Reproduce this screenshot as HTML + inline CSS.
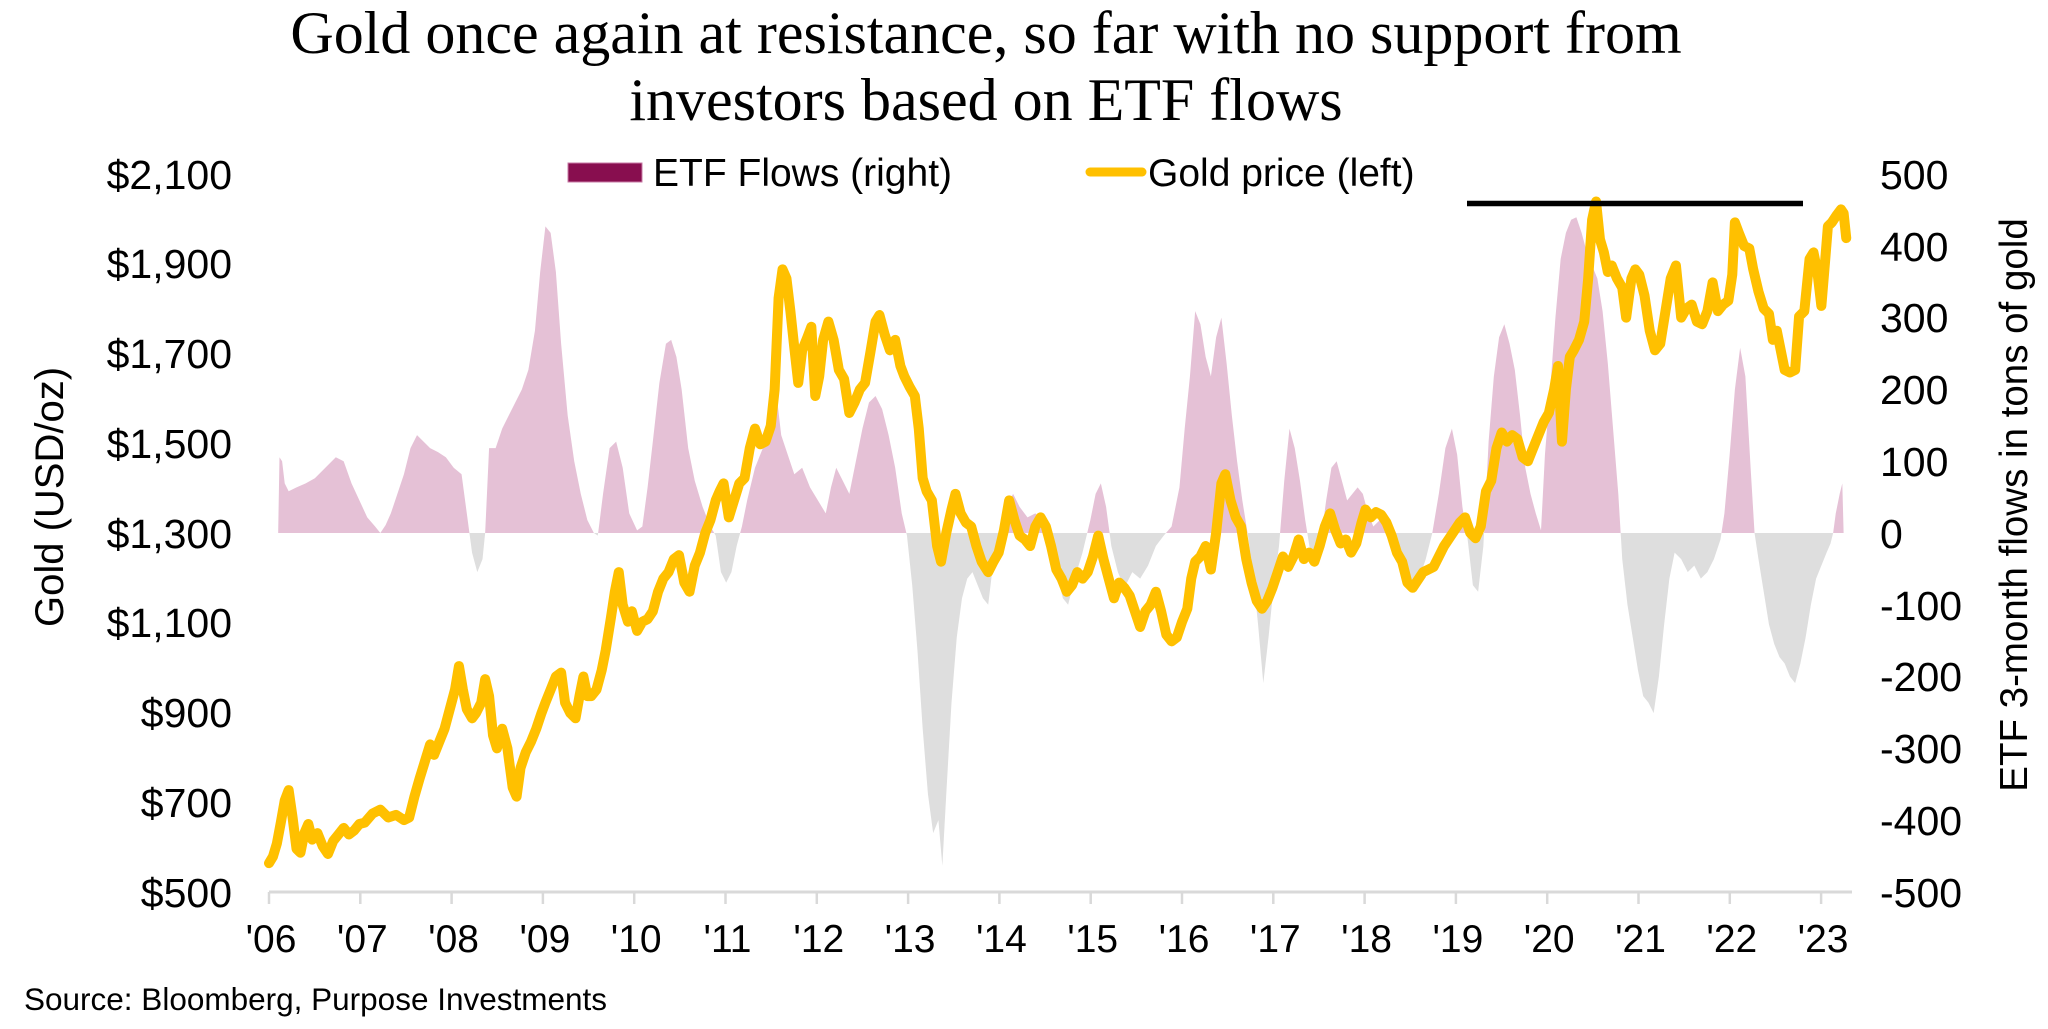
<!DOCTYPE html>
<html>
<head>
<meta charset="utf-8">
<style>
html,body{margin:0;padding:0;background:#fff;}
svg{display:block;}
.s{font-family:"Liberation Sans",Arial,sans-serif;fill:#000;}
.t{font-family:"Liberation Serif","Times New Roman",serif;fill:#000;}
</style>
</head>
<body>
<svg width="2048" height="1029" viewBox="0 0 2048 1029" xmlns="http://www.w3.org/2000/svg">
<rect width="2048" height="1029" fill="#fff"/>

<!-- Title -->
<text class="t" x="986" y="53" font-size="60" text-anchor="middle">Gold once again at resistance, so far with no support from</text>
<text class="t" x="986" y="120" font-size="60" text-anchor="middle">investors based on ETF flows</text>

<!-- Legend -->
<rect x="568" y="163" width="74" height="19" fill="#880E4F" stroke="#C77AA6" stroke-width="1"/>
<text class="s" x="653" y="186" font-size="39">ETF Flows (right)</text>
<line x1="1090" y1="172" x2="1142" y2="172" stroke="#FFC000" stroke-width="9" stroke-linecap="round"/>
<text class="s" x="1148" y="186" font-size="39">Gold price (left)</text>

<defs>
<clipPath id="cpos" clipPathUnits="userSpaceOnUse"><rect x="150" y="0" width="1400" height="410"/></clipPath>
<clipPath id="cneg" clipPathUnits="userSpaceOnUse"><rect x="150" y="410" width="1400" height="400"/></clipPath>
</defs>

<!-- Plot in main-view coords -->
<g transform="matrix(1.31 0 0 1.305 -2.17 -2.05)">
<polygon clip-path="url(#cpos)" fill="#E5C1D6" points="214,410 215,352 217,355 219,372 222,378 228,375 235,372 242,368 250,360 258,352 264,355 270,372 276,385 282,398 288,405 292,410 296,404 300,395 305,380 310,365 315,345 320,335 325,340 330,345 336,348 342,352 348,360 354,365 358,395 360,410 362,425 366,440 370,430 372,410 375,345 380,345 385,330 390,320 395,310 400,300 405,285 410,255 414,210 418,175 422,180 426,210 430,265 435,320 440,355 445,380 450,400 455,410 458,412 462,380 467,345 472,340 477,360 482,395 488,408 492,405 496,375 500,340 505,295 510,265 514,262 518,275 522,300 527,345 532,370 538,390 544,405 548,412 552,440 556,448 560,440 564,420 568,405 572,385 578,360 584,345 590,310 594,300 598,335 603,350 608,365 614,360 620,375 626,385 632,395 636,375 640,360 645,370 650,380 655,355 660,330 665,310 670,305 675,315 680,335 685,360 690,395 694,412 698,450 702,500 706,560 710,610 714,640 718,630 721,665 724,610 728,540 732,490 736,460 740,445 744,440 748,450 752,460 756,465 759,440 762,420 766,400 770,390 775,380 780,390 786,398 792,395 798,400 803,415 808,440 813,460 817,465 822,445 828,425 834,400 838,380 842,372 846,390 850,420 855,440 860,452 866,440 872,445 878,435 884,420 890,412 896,405 902,375 906,330 910,290 914,240 918,250 922,275 926,290 930,260 934,245 938,280 942,320 946,355 950,385 954,410 958,440 962,480 966,525 970,490 974,450 978,420 982,370 986,330 990,345 994,370 998,400 1002,425 1006,430 1010,415 1014,385 1018,360 1022,355 1026,370 1030,385 1034,380 1038,375 1042,380 1046,395 1050,405 1055,400 1060,395 1065,410 1070,430 1075,445 1080,455 1085,445 1090,430 1095,410 1100,380 1105,345 1110,330 1114,350 1118,390 1122,415 1126,450 1130,455 1134,420 1138,340 1142,290 1146,260 1150,250 1154,265 1158,285 1162,320 1166,360 1170,380 1174,395 1178,408 1181,350 1185,300 1189,245 1193,200 1197,180 1201,170 1205,168 1209,180 1213,195 1217,205 1221,215 1225,240 1229,280 1233,330 1237,380 1240,430 1244,465 1248,490 1252,515 1256,535 1260,540 1264,548 1268,520 1272,480 1276,445 1280,425 1285,430 1290,440 1295,435 1300,445 1305,440 1310,430 1315,415 1318,395 1322,350 1326,300 1330,268 1334,290 1338,360 1341,410 1344,430 1348,455 1352,480 1356,495 1360,505 1364,510 1368,520 1372,525 1376,510 1380,490 1384,465 1388,445 1392,435 1396,425 1399,418 1401,410 1403,395 1406,380 1408,372 1409,410"/>
<polygon clip-path="url(#cneg)" fill="#DEDEDE" points="214,410 215,352 217,355 219,372 222,378 228,375 235,372 242,368 250,360 258,352 264,355 270,372 276,385 282,398 288,405 292,410 296,404 300,395 305,380 310,365 315,345 320,335 325,340 330,345 336,348 342,352 348,360 354,365 358,395 360,410 362,425 366,440 370,430 372,410 375,345 380,345 385,330 390,320 395,310 400,300 405,285 410,255 414,210 418,175 422,180 426,210 430,265 435,320 440,355 445,380 450,400 455,410 458,412 462,380 467,345 472,340 477,360 482,395 488,408 492,405 496,375 500,340 505,295 510,265 514,262 518,275 522,300 527,345 532,370 538,390 544,405 548,412 552,440 556,448 560,440 564,420 568,405 572,385 578,360 584,345 590,310 594,300 598,335 603,350 608,365 614,360 620,375 626,385 632,395 636,375 640,360 645,370 650,380 655,355 660,330 665,310 670,305 675,315 680,335 685,360 690,395 694,412 698,450 702,500 706,560 710,610 714,640 718,630 721,665 724,610 728,540 732,490 736,460 740,445 744,440 748,450 752,460 756,465 759,440 762,420 766,400 770,390 775,380 780,390 786,398 792,395 798,400 803,415 808,440 813,460 817,465 822,445 828,425 834,400 838,380 842,372 846,390 850,420 855,440 860,452 866,440 872,445 878,435 884,420 890,412 896,405 902,375 906,330 910,290 914,240 918,250 922,275 926,290 930,260 934,245 938,280 942,320 946,355 950,385 954,410 958,440 962,480 966,525 970,490 974,450 978,420 982,370 986,330 990,345 994,370 998,400 1002,425 1006,430 1010,415 1014,385 1018,360 1022,355 1026,370 1030,385 1034,380 1038,375 1042,380 1046,395 1050,405 1055,400 1060,395 1065,410 1070,430 1075,445 1080,455 1085,445 1090,430 1095,410 1100,380 1105,345 1110,330 1114,350 1118,390 1122,415 1126,450 1130,455 1134,420 1138,340 1142,290 1146,260 1150,250 1154,265 1158,285 1162,320 1166,360 1170,380 1174,395 1178,408 1181,350 1185,300 1189,245 1193,200 1197,180 1201,170 1205,168 1209,180 1213,195 1217,205 1221,215 1225,240 1229,280 1233,330 1237,380 1240,430 1244,465 1248,490 1252,515 1256,535 1260,540 1264,548 1268,520 1272,480 1276,445 1280,425 1285,430 1290,440 1295,435 1300,445 1305,440 1310,430 1315,415 1318,395 1322,350 1326,300 1330,268 1334,290 1338,360 1341,410 1344,430 1348,455 1352,480 1356,495 1360,505 1364,510 1368,520 1372,525 1376,510 1380,490 1384,465 1388,445 1392,435 1396,425 1399,418 1401,410 1403,395 1406,380 1408,372 1409,410"/>

<!-- Gold price line -->
<polyline fill="none" stroke="#FFC000" stroke-width="10" stroke-linejoin="round" stroke-linecap="round" vector-effect="non-scaling-stroke" points="207,663 210,658 213,648 216,632 219,615 222,607 225,628 228,652 231,655 234,640 237,633 240,645 244,640 248,650 252,656 256,646 260,641 264,636 268,641 272,638 276,633 280,632 286,625 292,622 298,628 304,626 310,630 314,628 318,612 322,598 326,585 330,572 333,580 337,570 341,560 345,545 349,530 352,512 355,530 358,545 362,552 365,548 369,540 372,522 375,535 378,565 381,575 385,560 389,575 393,605 396,612 399,590 403,578 407,570 411,560 415,548 418,540 422,530 426,520 430,517 433,540 437,548 441,552 444,535 447,520 450,535 453,535 457,530 461,515 464,500 468,475 471,455 474,440 477,465 481,478 484,470 488,485 492,478 496,476 500,470 504,455 508,445 512,440 516,430 520,427 524,448 528,455 532,435 536,425 540,410 544,400 548,385 551,378 554,372 558,398 562,385 566,372 570,368 574,345 578,330 582,342 586,340 590,328 593,300 596,230 599,208 602,215 605,240 608,268 611,295 614,270 618,260 621,252 624,305 627,290 630,262 634,248 638,262 642,285 646,292 650,318 654,310 658,300 662,295 666,272 670,248 673,243 677,258 681,270 685,262 689,282 692,290 696,298 700,305 703,330 706,368 709,378 713,385 717,420 720,432 724,410 728,392 731,380 735,395 739,402 743,405 747,420 751,432 756,440 760,432 764,425 768,408 772,385 776,400 780,412 784,415 788,420 792,405 796,398 800,405 804,420 808,438 812,445 816,455 820,450 824,440 828,445 832,440 836,428 840,412 844,430 848,445 852,460 856,448 860,452 864,458 868,470 872,482 876,470 880,465 884,455 888,470 892,488 896,493 900,490 904,478 908,468 911,445 914,432 918,428 922,420 926,438 930,410 934,372 937,365 941,385 945,398 949,405 953,430 957,448 961,462 965,468 969,462 973,452 977,440 981,428 985,436 989,428 993,415 997,430 1001,425 1005,432 1009,420 1013,405 1017,395 1021,408 1025,418 1029,415 1033,425 1037,418 1041,402 1044,392 1048,398 1052,394 1056,396 1060,402 1064,412 1068,425 1072,432 1076,448 1080,452 1084,446 1088,440 1092,438 1096,436 1100,428 1104,420 1108,414 1112,408 1116,402 1120,398 1124,410 1128,414 1132,405 1136,378 1140,370 1144,345 1148,333 1152,340 1156,335 1160,338 1164,352 1168,355 1172,345 1176,335 1180,325 1184,318 1188,300 1191,282 1194,340 1197,300 1200,275 1203,270 1207,262 1211,248 1214,215 1217,170 1220,156 1223,185 1226,195 1229,210 1232,205 1236,215 1240,222 1243,245 1247,215 1250,208 1253,212 1257,228 1261,255 1265,270 1269,265 1273,240 1277,215 1281,205 1285,245 1289,238 1293,235 1297,248 1301,250 1305,240 1309,218 1313,240 1317,235 1321,232 1324,212 1326,172 1329,180 1333,190 1337,192 1340,208 1344,225 1348,238 1352,242 1355,262 1358,255 1361,270 1364,285 1368,287 1372,285 1375,244 1379,240 1383,200 1386,195 1389,210 1392,236 1395,200 1397,175 1400,172 1404,166 1407,162 1409,165 1411,184"/>
</g>

<!-- Resistance line -->
<line x1="1467" y1="203.5" x2="1803" y2="203.5" stroke="#000" stroke-width="5.5"/>

<!-- X axis -->
<line x1="269" y1="892" x2="1852" y2="892" stroke="#D9D9D9" stroke-width="3"/>
<g stroke="#D9D9D9" stroke-width="2.5">
<line x1="269" y1="892" x2="269" y2="904"/>
<line x1="360.3" y1="892" x2="360.3" y2="904"/>
<line x1="451.6" y1="892" x2="451.6" y2="904"/>
<line x1="542.9" y1="892" x2="542.9" y2="904"/>
<line x1="634.2" y1="892" x2="634.2" y2="904"/>
<line x1="725.5" y1="892" x2="725.5" y2="904"/>
<line x1="816.8" y1="892" x2="816.8" y2="904"/>
<line x1="908.1" y1="892" x2="908.1" y2="904"/>
<line x1="999.4" y1="892" x2="999.4" y2="904"/>
<line x1="1090.7" y1="892" x2="1090.7" y2="904"/>
<line x1="1182" y1="892" x2="1182" y2="904"/>
<line x1="1273.3" y1="892" x2="1273.3" y2="904"/>
<line x1="1364.6" y1="892" x2="1364.6" y2="904"/>
<line x1="1455.9" y1="892" x2="1455.9" y2="904"/>
<line x1="1547.2" y1="892" x2="1547.2" y2="904"/>
<line x1="1638.5" y1="892" x2="1638.5" y2="904"/>
<line x1="1729.8" y1="892" x2="1729.8" y2="904"/>
<line x1="1821.1" y1="892" x2="1821.1" y2="904"/>
</g>
<g font-size="39" text-anchor="middle">
<text class="s" x="271" y="952">'06</text>
<text class="s" x="362.3" y="952">'07</text>
<text class="s" x="453.6" y="952">'08</text>
<text class="s" x="544.9" y="952">'09</text>
<text class="s" x="636.2" y="952">'10</text>
<text class="s" x="727.5" y="952">'11</text>
<text class="s" x="818.8" y="952">'12</text>
<text class="s" x="910.1" y="952">'13</text>
<text class="s" x="1001.4" y="952">'14</text>
<text class="s" x="1092.7" y="952">'15</text>
<text class="s" x="1184" y="952">'16</text>
<text class="s" x="1275.3" y="952">'17</text>
<text class="s" x="1366.6" y="952">'18</text>
<text class="s" x="1457.9" y="952">'19</text>
<text class="s" x="1549.2" y="952">'20</text>
<text class="s" x="1640.5" y="952">'21</text>
<text class="s" x="1731.8" y="952">'22</text>
<text class="s" x="1823.1" y="952">'23</text>
</g>

<!-- Left axis labels -->
<g font-size="41" text-anchor="end">
<text class="s" x="232" y="189">$2,100</text>
<text class="s" x="232" y="278">$1,900</text>
<text class="s" x="232" y="368">$1,700</text>
<text class="s" x="232" y="458">$1,500</text>
<text class="s" x="232" y="548">$1,300</text>
<text class="s" x="232" y="637">$1,100</text>
<text class="s" x="232" y="727">$900</text>
<text class="s" x="232" y="817">$700</text>
<text class="s" x="232" y="907">$500</text>
</g>

<!-- Right axis labels -->
<g font-size="41" text-anchor="start">
<text class="s" x="1880" y="189">500</text>
<text class="s" x="1880" y="261">400</text>
<text class="s" x="1880" y="332">300</text>
<text class="s" x="1880" y="404">200</text>
<text class="s" x="1880" y="476">100</text>
<text class="s" x="1880" y="548">0</text>
<text class="s" x="1880" y="620">-100</text>
<text class="s" x="1880" y="691">-200</text>
<text class="s" x="1880" y="763">-300</text>
<text class="s" x="1880" y="835">-400</text>
<text class="s" x="1880" y="907">-500</text>
</g>

<!-- Axis titles -->
<text class="s" font-size="40" text-anchor="middle" transform="translate(63,497) rotate(-90)">Gold (USD/oz)</text>
<text class="s" font-size="38.5" text-anchor="middle" transform="translate(2027,505) rotate(-90)">ETF 3-month flows in tons of gold</text>

<!-- Source -->
<text class="s" x="24" y="1010" font-size="31.5">Source: Bloomberg, Purpose Investments</text>
</svg>
</body>
</html>
